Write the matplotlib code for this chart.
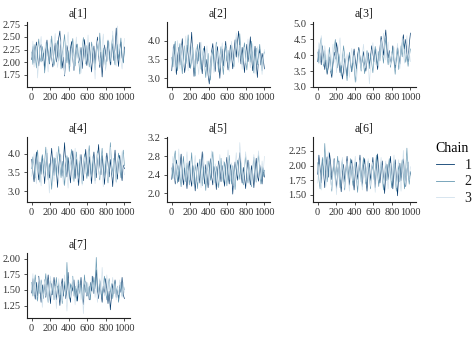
import numpy as np
import matplotlib
matplotlib.use("Agg")
import matplotlib.pyplot as plt
from matplotlib.lines import Line2D

plt.rcParams['font.family'] = ['Liberation Serif', 'DejaVu Serif']

params = ["a[1]", "a[2]", "a[3]", "a[4]", "a[5]", "a[6]", "a[7]"]
chain_labels = ["1", "2", "3"]
chain_colors = ["#03396c", "#6497b1", "#d1e1ec"]

a1_c1 = [2.05, 2.31, 1.98, 2.22, 2.40, 2.10, 1.92, 2.28, 2.35, 2.02, 2.18, 1.85, 2.25, 2.44, 2.12, 1.96, 2.30, 2.08, 1.90, 2.21, 2.38, 2.00, 2.15, 2.48, 2.62, 2.20, 1.88, 2.10, 1.72, 2.05, 2.33, 2.19, 1.95, 2.27, 2.41, 2.06, 1.83, 2.14, 2.36, 2.23, 1.99, 2.09, 2.29, 1.87, 2.17, 2.45, 2.11, 1.93, 2.24, 2.39, 2.04, 1.80, 2.16, 2.32, 1.97, 2.26, 2.50, 2.13, 1.89, 2.20, 1.70, 2.07, 2.34, 2.18, 2.01, 2.42, 2.22, 1.94, 2.12, 2.37, 2.03, 2.28, 2.68, 2.15, 1.91, 2.26, 2.40, 2.08, 1.99, 2.30]
a1_c2 = [2.20, 1.95, 2.35, 2.12, 1.88, 2.27, 2.46, 2.09, 2.00, 2.31, 2.17, 1.78, 2.05, 2.38, 2.22, 1.97, 2.14, 2.52, 2.19, 1.93, 2.07, 2.29, 2.43, 2.02, 2.25, 1.86, 2.11, 2.34, 2.55, 2.16, 1.98, 2.23, 1.81, 2.08, 2.30, 2.47, 2.13, 1.92, 2.18, 2.36, 2.04, 1.76, 2.10, 2.26, 2.49, 2.15, 1.96, 2.33, 2.21, 1.90, 2.06, 2.40, 2.24, 2.01, 1.84, 2.19, 2.37, 2.12, 2.58, 2.17, 1.95, 2.28, 2.09, 1.87, 2.23, 2.44, 2.14, 2.00, 2.32, 2.53, 2.10, 1.94, 2.20, 2.35, 2.05, 2.27, 2.48, 2.13, 1.98, 2.22]
a1_c3 = [2.10, 2.42, 1.90, 2.18, 2.33, 1.68, 2.06, 2.29, 2.51, 2.14, 1.93, 2.25, 2.39, 2.03, 1.80, 2.20, 2.46, 2.11, 1.96, 2.34, 2.57, 2.16, 1.89, 2.08, 2.31, 2.45, 2.02, 2.23, 1.74, 2.13, 2.37, 2.60, 2.19, 1.91, 2.27, 2.09, 1.85, 2.22, 2.50, 2.15, 2.01, 2.30, 1.78, 2.12, 2.41, 2.24, 1.97, 2.18, 2.54, 2.07, 1.88, 2.26, 2.35, 2.04, 1.66, 2.17, 2.43, 2.21, 1.94, 2.10, 2.32, 2.56, 2.14, 1.83, 2.28, 2.05, 2.40, 2.19, 1.95, 2.62, 2.25, 2.08, 1.92, 2.72, 2.16, 2.36, 2.02, 1.86, 2.20, 2.47]

a2_c1 = [3.20, 3.65, 3.90, 3.45, 3.10, 3.58, 3.82, 3.35, 3.70, 4.05, 3.52, 3.15, 3.40, 3.88, 3.62, 3.28, 3.75, 4.22, 3.55, 3.05, 3.48, 3.80, 3.38, 3.66, 3.95, 3.42, 3.12, 3.60, 3.85, 3.30, 3.50, 3.08, 2.85, 3.36, 3.72, 3.92, 3.46, 3.18, 3.63, 3.84, 3.40, 3.00, 3.54, 3.78, 3.33, 3.68, 3.98, 3.50, 3.22, 3.45, 3.88, 3.60, 3.25, 3.70, 4.02, 3.56, 3.95, 4.25, 3.74, 3.38, 3.82, 3.52, 3.15, 3.60, 3.90, 3.44, 3.70, 4.10, 3.58, 3.20, 3.48, 3.85, 3.40, 3.02, 3.55, 3.78, 3.35, 3.66, 3.50, 3.25]
a2_c2 = [3.55, 3.30, 3.78, 3.98, 3.42, 3.20, 3.68, 3.92, 3.50, 3.12, 3.62, 3.86, 3.38, 3.72, 4.15, 3.60, 3.26, 3.48, 3.82, 3.34, 3.06, 3.58, 3.90, 3.46, 3.70, 3.24, 3.52, 3.80, 3.36, 3.02, 3.44, 3.66, 3.18, 2.95, 3.50, 3.76, 3.32, 3.62, 3.96, 3.48, 3.16, 3.58, 3.84, 3.40, 3.10, 3.64, 3.88, 3.46, 3.74, 3.28, 3.54, 3.92, 3.62, 3.30, 3.68, 4.08, 3.82, 3.50, 4.18, 3.66, 3.36, 3.72, 3.94, 3.48, 3.22, 3.60, 3.86, 3.42, 3.98, 3.56, 3.14, 3.52, 3.80, 3.36, 3.64, 3.90, 3.46, 3.20, 3.58, 3.70]
a2_c3 = [3.40, 3.82, 3.58, 3.15, 3.66, 4.00, 3.50, 3.25, 3.88, 3.62, 3.34, 3.76, 4.12, 3.56, 3.20, 3.70, 3.44, 3.92, 3.60, 3.28, 3.52, 3.84, 3.38, 3.10, 3.64, 3.96, 3.48, 3.74, 3.22, 3.56, 3.86, 3.40, 3.00, 3.32, 3.68, 3.50, 3.14, 3.60, 3.90, 3.44, 3.72, 3.26, 3.54, 3.94, 3.62, 3.30, 3.46, 3.80, 3.58, 3.18, 3.66, 3.98, 3.52, 3.36, 3.74, 4.20, 3.68, 3.42, 3.88, 3.60, 3.24, 3.56, 3.82, 3.40, 3.70, 4.04, 3.54, 3.28, 3.64, 3.92, 3.46, 3.12, 3.58, 3.84, 3.38, 3.66, 3.48, 3.10, 3.54, 3.76]

a3_c1 = [3.80, 4.20, 4.05, 3.70, 4.30, 3.90, 3.55, 3.85, 3.40, 3.62, 3.95, 3.50, 3.30, 3.72, 4.10, 3.88, 4.40, 4.15, 3.78, 3.45, 3.68, 3.25, 3.52, 3.90, 3.60, 3.35, 3.80, 4.05, 3.70, 3.48, 3.92, 4.20, 3.85, 3.58, 4.00, 4.25, 3.95, 3.62, 3.88, 4.12, 3.75, 3.50, 3.82, 4.08, 3.68, 3.95, 4.30, 4.05, 3.80, 4.18, 3.90, 3.55, 3.86, 4.22, 4.60, 4.35, 4.00, 4.45, 4.80, 4.25, 3.92, 4.15, 3.70, 3.98, 4.30, 3.85, 3.60, 3.95, 4.28, 4.00, 3.72, 4.10, 4.40, 4.65, 4.20, 4.50, 4.05, 3.80, 4.35, 4.70]
a3_c2 = [4.10, 3.75, 4.35, 4.55, 4.00, 3.65, 4.15, 3.80, 3.45, 3.90, 4.25, 3.70, 3.40, 3.85, 4.20, 4.50, 3.95, 3.60, 4.05, 3.75, 3.35, 3.88, 4.30, 3.98, 3.55, 3.20, 3.70, 4.10, 3.82, 3.48, 3.95, 3.65, 3.15, 3.60, 3.92, 4.22, 3.80, 3.50, 4.00, 3.72, 3.42, 3.85, 4.15, 3.90, 3.58, 4.05, 3.75, 3.45, 3.92, 4.28, 3.98, 3.68, 4.12, 3.82, 4.40, 4.10, 3.75, 4.20, 4.55, 4.00, 3.70, 4.08, 3.62, 3.92, 4.25, 3.80, 3.40, 3.88, 4.18, 3.55, 3.85, 4.30, 3.95, 4.45, 4.12, 3.78, 4.00, 3.65, 3.95, 4.20]
a3_c3 = [3.95, 4.40, 3.82, 4.62, 4.10, 3.72, 4.30, 4.00, 3.60, 4.18, 3.88, 3.50, 3.98, 4.35, 3.78, 4.08, 3.45, 3.92, 4.28, 4.55, 3.85, 3.62, 4.12, 3.40, 3.80, 4.05, 3.68, 3.30, 3.90, 4.22, 3.75, 4.00, 3.52, 3.18, 3.70, 4.15, 3.88, 3.55, 4.02, 4.35, 3.82, 3.60, 4.10, 3.78, 3.10, 3.65, 4.00, 4.40, 3.92, 3.70, 4.20, 4.05, 3.65, 4.15, 4.50, 3.98, 4.70, 4.30, 3.85, 4.12, 4.42, 3.95, 3.68, 4.08, 3.82, 4.25, 3.70, 4.00, 4.38, 3.90, 3.58, 4.15, 4.55, 4.02, 3.75, 4.30, 4.62, 3.88, 4.10, 3.80]

a4_c1 = [3.85, 3.50, 3.25, 3.72, 4.05, 3.60, 3.30, 3.78, 3.45, 3.95, 3.62, 3.20, 3.68, 4.02, 3.55, 3.35, 3.80, 4.15, 3.70, 3.42, 3.88, 3.58, 3.10, 3.65, 4.00, 3.75, 3.40, 3.82, 4.30, 3.68, 3.38, 3.90, 3.55, 3.22, 3.72, 4.08, 3.62, 3.34, 3.85, 3.50, 3.15, 3.70, 3.98, 3.60, 3.28, 3.78, 4.12, 3.66, 3.40, 3.92, 3.56, 3.20, 3.75, 4.05, 3.64, 3.36, 3.88, 4.25, 3.70, 3.44, 3.95, 3.58, 3.18, 3.66, 4.02, 3.74, 3.38, 3.85, 3.52, 3.12, 3.68, 4.10, 3.62, 3.32, 3.80, 3.96, 3.55, 3.28, 3.70, 3.60]
a4_c2 = [3.60, 3.92, 3.70, 3.35, 3.82, 4.10, 3.58, 3.24, 3.68, 3.98, 3.48, 3.78, 4.18, 3.65, 3.30, 3.74, 3.52, 3.05, 3.60, 3.90, 3.72, 3.40, 3.86, 4.20, 3.66, 3.36, 3.80, 3.50, 3.15, 3.62, 3.95, 3.70, 3.44, 3.88, 4.12, 3.58, 3.26, 3.76, 4.05, 3.64, 3.38, 3.82, 3.54, 3.20, 3.70, 4.00, 3.60, 3.34, 3.86, 4.22, 3.68, 3.42, 3.92, 3.62, 3.28, 3.74, 4.08, 3.56, 3.30, 3.80, 4.15, 3.66, 3.40, 3.90, 3.58, 3.22, 3.72, 4.30, 3.76, 3.46, 3.88, 3.60, 3.25, 3.70, 4.02, 3.64, 3.36, 3.84, 4.10, 3.68]
a4_c3 = [3.40, 3.75, 4.00, 3.55, 3.20, 3.68, 3.92, 3.46, 3.14, 3.62, 3.88, 3.40, 3.72, 4.12, 3.58, 2.95, 3.48, 3.84, 3.62, 3.26, 3.70, 4.05, 3.54, 3.30, 3.78, 3.96, 3.50, 3.18, 3.66, 3.90, 3.44, 3.08, 3.58, 3.86, 3.62, 3.32, 3.76, 4.15, 3.56, 3.24, 3.70, 3.98, 3.50, 3.16, 3.64, 3.92, 3.46, 3.74, 4.08, 3.60, 3.28, 3.68, 3.94, 3.52, 3.20, 3.72, 4.02, 3.58, 3.36, 3.82, 3.50, 3.12, 3.66, 3.94, 3.56, 3.30, 3.78, 4.18, 3.62, 3.38, 3.84, 3.54, 3.22, 3.68, 3.90, 3.48, 3.70, 4.06, 3.60, 3.44]

a5_c1 = [2.30, 2.65, 2.45, 2.20, 2.72, 2.50, 2.25, 2.58, 2.85, 2.40, 2.18, 2.55, 2.35, 2.10, 2.48, 2.70, 2.32, 2.15, 2.60, 2.42, 2.05, 2.38, 2.66, 2.50, 2.22, 2.55, 2.90, 2.46, 2.20, 2.62, 2.40, 2.12, 2.52, 2.75, 2.36, 2.18, 2.58, 2.44, 2.08, 2.46, 2.70, 2.52, 2.25, 2.60, 2.38, 2.15, 2.54, 2.78, 2.42, 2.20, 2.62, 2.45, 1.98, 2.40, 2.68, 2.50, 2.28, 2.64, 2.88, 2.46, 2.22, 2.56, 2.34, 2.10, 2.50, 2.72, 2.40, 2.18, 2.60, 2.44, 2.12, 2.48, 2.76, 2.38, 2.26, 2.62, 2.42, 2.20, 2.55, 2.35]
a5_c2 = [2.55, 2.32, 2.75, 2.92, 2.48, 2.22, 2.60, 2.38, 2.14, 2.52, 2.80, 2.44, 2.25, 2.66, 2.48, 2.18, 2.56, 2.88, 2.42, 2.20, 2.62, 2.46, 2.10, 2.50, 2.74, 2.36, 2.16, 2.58, 2.40, 2.06, 2.46, 2.70, 2.54, 2.28, 2.64, 2.90, 2.46, 2.22, 2.58, 2.34, 2.12, 2.50, 2.76, 2.40, 2.24, 2.68, 2.48, 2.16, 2.54, 2.82, 2.44, 2.20, 2.60, 2.38, 2.08, 2.48, 2.72, 2.52, 2.30, 2.66, 2.44, 2.18, 2.56, 2.84, 2.40, 2.22, 2.62, 2.46, 2.14, 2.52, 2.78, 2.42, 2.24, 2.60, 2.86, 2.46, 2.20, 2.58, 2.36, 2.50]
a5_c3 = [2.42, 2.80, 2.58, 2.26, 2.64, 2.40, 2.96, 2.52, 2.30, 2.70, 2.46, 2.20, 2.62, 2.90, 2.50, 2.28, 2.68, 2.44, 2.16, 2.56, 2.82, 2.48, 2.24, 2.66, 2.42, 2.12, 2.54, 2.86, 2.46, 2.26, 2.70, 2.50, 2.18, 2.60, 2.92, 2.44, 2.22, 2.64, 2.48, 2.14, 2.56, 2.84, 2.52, 2.28, 2.70, 2.46, 2.20, 2.62, 2.94, 2.50, 2.26, 2.66, 2.42, 2.16, 2.58, 2.88, 2.46, 2.30, 3.10, 2.72, 2.48, 2.24, 2.60, 2.90, 2.50, 2.28, 2.68, 2.44, 2.18, 2.58, 2.84, 2.48, 2.26, 2.66, 2.92, 2.54, 2.30, 2.70, 2.46, 2.80]

a6_c1 = [1.85, 2.18, 1.95, 1.70, 2.10, 1.88, 1.62, 1.98, 2.15, 1.80, 2.22, 2.05, 1.76, 1.92, 2.12, 1.84, 1.60, 1.90, 2.08, 1.78, 1.55, 1.86, 2.02, 1.72, 1.94, 2.16, 1.88, 1.66, 1.96, 2.10, 1.82, 1.58, 1.88, 2.06, 1.76, 1.92, 2.18, 1.86, 1.64, 1.98, 2.12, 1.80, 1.56, 1.90, 2.04, 1.74, 1.94, 2.14, 1.84, 1.62, 1.96, 2.20, 1.88, 1.70, 1.92, 2.08, 1.78, 1.52, 1.86, 2.02, 1.76, 1.94, 2.16, 1.84, 1.60, 1.90, 2.10, 1.80, 1.48, 1.82, 2.04, 1.74, 1.96, 2.12, 1.86, 1.64, 1.92, 2.06, 1.78, 1.88]
a6_c2 = [2.05, 1.76, 1.60, 1.92, 2.14, 1.84, 2.38, 1.98, 1.72, 1.88, 2.08, 1.78, 1.56, 1.90, 2.02, 1.74, 1.94, 2.16, 1.86, 1.62, 1.96, 2.10, 1.80, 1.58, 1.88, 2.04, 1.76, 1.92, 2.12, 1.84, 1.66, 1.98, 2.06, 1.78, 1.54, 1.86, 2.00, 1.72, 1.94, 2.14, 1.88, 1.68, 1.96, 2.08, 1.82, 1.60, 1.90, 2.02, 1.76, 1.94, 2.18, 1.86, 1.64, 1.92, 2.06, 1.80, 1.58, 1.88, 2.04, 1.74, 1.96, 2.12, 1.84, 1.62, 1.90, 2.08, 1.78, 1.56, 1.86, 2.00, 1.72, 1.92, 2.10, 1.82, 1.60, 1.94, 2.30, 1.84, 1.68, 1.90]
a6_c3 = [1.70, 2.02, 1.86, 1.58, 1.94, 2.12, 1.80, 1.64, 1.98, 2.24, 1.88, 1.72, 1.60, 1.96, 2.10, 1.82, 1.50, 1.88, 2.06, 1.76, 1.94, 2.14, 1.84, 1.62, 1.92, 2.08, 1.78, 1.56, 1.90, 2.04, 1.74, 1.96, 2.16, 1.86, 1.66, 1.94, 2.10, 1.80, 1.58, 1.88, 2.02, 1.72, 1.92, 2.12, 1.84, 1.64, 1.96, 2.06, 1.78, 1.54, 1.86, 2.00, 1.76, 1.94, 2.14, 1.88, 1.68, 1.92, 2.08, 1.82, 1.60, 1.90, 2.04, 1.74, 1.96, 2.18, 1.86, 1.62, 1.94, 2.10, 1.80, 1.56, 1.88, 2.26, 1.84, 1.66, 1.92, 2.08, 1.78, 1.98]

a7_c1 = [1.45, 1.68, 1.52, 1.35, 1.62, 1.40, 1.72, 1.50, 1.30, 1.58, 1.44, 1.66, 1.38, 1.55, 1.74, 1.48, 1.28, 1.60, 1.42, 1.70, 1.52, 1.34, 1.56, 1.46, 1.25, 1.54, 1.68, 1.40, 1.62, 1.36, 1.50, 1.78, 1.44, 1.30, 1.58, 1.48, 1.66, 1.38, 1.52, 1.32, 1.60, 1.46, 1.70, 1.42, 1.26, 1.56, 1.64, 1.40, 1.54, 1.34, 1.62, 1.48, 1.72, 1.44, 1.58, 1.82, 1.50, 1.36, 1.64, 1.46, 1.30, 1.56, 1.42, 1.68, 1.52, 1.28, 1.48, 1.18, 1.40, 1.60, 1.44, 1.66, 1.38, 1.54, 1.32, 1.58, 1.46, 1.70, 1.42, 1.36]
a7_c2 = [1.62, 1.40, 1.56, 1.74, 1.48, 1.32, 1.60, 1.44, 1.66, 1.52, 1.36, 1.58, 1.76, 1.46, 1.30, 1.54, 1.68, 1.42, 1.58, 1.34, 1.50, 1.70, 1.44, 1.62, 1.38, 1.56, 1.28, 1.48, 1.64, 1.42, 1.94, 1.54, 1.36, 1.60, 1.46, 1.72, 1.40, 1.56, 1.32, 1.52, 1.66, 1.44, 1.58, 1.36, 1.50, 1.74, 1.46, 1.62, 1.40, 1.56, 1.34, 1.64, 1.48, 1.70, 1.52, 2.02, 1.60, 1.44, 1.66, 1.50, 1.38, 1.58, 1.72, 1.46, 1.34, 1.54, 1.68, 1.42, 1.60, 1.36, 1.52, 1.64, 1.44, 1.56, 1.30, 1.48, 1.62, 1.40, 1.58, 1.50]
a7_c3 = [1.50, 1.76, 1.42, 1.60, 1.34, 1.54, 1.70, 1.46, 1.62, 1.22, 1.48, 1.66, 1.40, 1.58, 1.30, 1.52, 1.72, 1.44, 1.64, 1.36, 1.56, 1.20, 1.50, 1.68, 1.42, 1.60, 1.32, 1.54, 1.74, 1.46, 1.16, 1.48, 1.62, 1.38, 1.56, 1.70, 1.44, 1.26, 1.52, 1.66, 1.40, 1.58, 1.34, 1.54, 1.12, 1.46, 1.64, 1.42, 1.60, 1.36, 1.52, 1.72, 1.46, 1.62, 1.38, 1.56, 1.30, 1.50, 1.68, 1.44, 1.86, 1.58, 1.40, 1.54, 1.74, 1.48, 1.64, 1.36, 1.52, 1.70, 1.44, 1.60, 1.34, 1.56, 1.42, 1.66, 1.50, 1.38, 1.62, 1.46]

chains = {
    "a[1]": [a1_c1, a1_c2, a1_c3],
    "a[2]": [a2_c1, a2_c2, a2_c3],
    "a[3]": [a3_c1, a3_c2, a3_c3],
    "a[4]": [a4_c1, a4_c2, a4_c3],
    "a[5]": [a5_c1, a5_c2, a5_c3],
    "a[6]": [a6_c1, a6_c2, a6_c3],
    "a[7]": [a7_c1, a7_c2, a7_c3],
}

x_ticks = [0, 200, 400, 600, 800, 1000]
y_ticks = {
    "a[1]": [1.75, 2.00, 2.25, 2.50, 2.75],
    "a[2]": [3.0, 3.5, 4.0],
    "a[3]": [3.0, 3.5, 4.0, 4.5, 5.0],
    "a[4]": [3.0, 3.5, 4.0],
    "a[5]": [2.0, 2.4, 2.8, 3.2],
    "a[6]": [1.50, 1.75, 2.00, 2.25],
    "a[7]": [1.25, 1.50, 1.75, 2.00],
}
y_fmt = {"a[1]": "{:.2f}", "a[2]": "{:.1f}", "a[3]": "{:.1f}", "a[4]": "{:.1f}",
         "a[5]": "{:.1f}", "a[6]": "{:.2f}", "a[7]": "{:.2f}"}
y_lims = {
    "a[1]": (1.50, 2.80), "a[2]": (2.77, 4.49), "a[3]": (3.0, 5.05),
    "a[4]": (2.71, 4.45), "a[5]": (1.81, 3.22), "a[6]": (1.375, 2.49),
    "a[7]": (1.05, 2.09),
}

W, H = 474, 338
fig = plt.figure(figsize=(W / 100, H / 100), dpi=100)

col_left = [27, 167, 313]
row_bottom = [87, 202, 318]
pw, ph = 103, 65

txt_color = "#333333"
for i, p in enumerate(params):
    r, c = divmod(i, 3)
    left = col_left[c]
    bottom = row_bottom[r]
    ax = fig.add_axes([left / W, (H - bottom) / H, pw / W, ph / H])
    for vals, col in zip(chains[p], chain_colors):
        v = np.asarray(vals)
        it = np.linspace(1, 1000, len(v))
        ax.plot(it, v, color=col, lw=0.45)
    ax.set_xlim(-50, 1060)
    ax.set_ylim(*y_lims[p])
    ax.set_xticks(x_ticks)
    ax.set_xticklabels([str(t) for t in x_ticks])
    ax.set_yticks(y_ticks[p])
    ax.set_yticklabels([y_fmt[p].format(t) for t in y_ticks[p]])
    for s in ["top", "right"]:
        ax.spines[s].set_visible(False)
    for s in ["left", "bottom"]:
        ax.spines[s].set_color("#222222")
        ax.spines[s].set_linewidth(0.8)
    ax.tick_params(axis="both", labelsize=7.5, colors="#333333", length=2.5,
                   width=0.6, pad=2, labelcolor=txt_color)
    ax.set_title(p, fontsize=8.5, color="#1a1a1a", pad=4)

handles = [Line2D([], [], color=col, lw=0.6) for col in chain_colors]
leg = fig.legend(handles, chain_labels, title="Chain", loc="upper left",
                 bbox_to_anchor=(423 / W, 1 - 130 / H), frameon=False,
                 fontsize=10, title_fontsize=10, handlelength=1.3,
                 handletextpad=0.8, labelspacing=0.25, alignment="left")
for t in leg.get_texts():
    t.set_color("#1a1a1a")

fig.savefig("out.png", dpi=100)
